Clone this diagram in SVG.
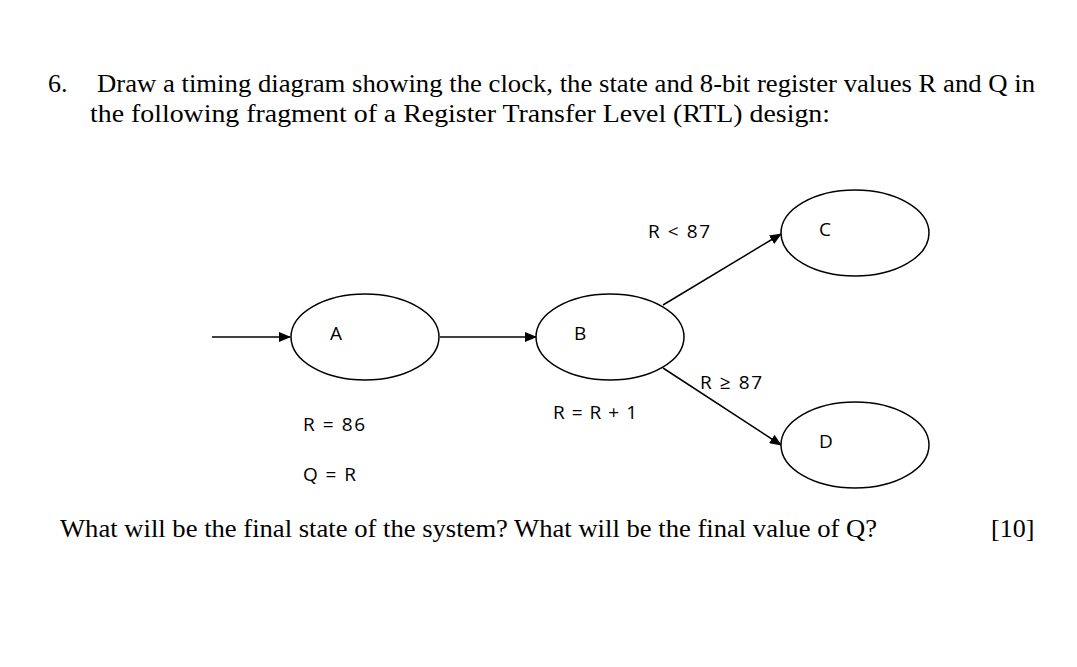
<svg xmlns="http://www.w3.org/2000/svg" width="1077" height="667" viewBox="0 0 1077 667">
<style>
.t{font-family:"Liberation Serif",serif;font-size:26px;fill:#000}
.s{font-family:"Open Sans","Liberation Sans",sans-serif;font-size:19px;fill:#000}
ellipse{fill:#fff;stroke:#000;stroke-width:1.5}
line{stroke:#000;stroke-width:1.5}
</style>
<defs><marker id="a" markerWidth="12" markerHeight="10" refX="11" refY="5" orient="auto" markerUnits="userSpaceOnUse"><path d="M0,0L12,5L0,10Z" fill="#000"/></marker></defs>
<rect width="1077" height="667" fill="#fff"/>
<text class="t" x="48" y="92">6.</text>
<text class="t" x="97" y="92" textLength="938" lengthAdjust="spacingAndGlyphs">Draw a timing diagram showing the clock, the state and 8-bit register values R and Q in</text>
<text class="t" x="90" y="122" textLength="740" lengthAdjust="spacingAndGlyphs">the following fragment of a Register Transfer Level (RTL) design:</text>
<g id="connectors">
<line x1="212" y1="337" x2="290" y2="337" marker-end="url(#a)"/>
<line x1="440" y1="337" x2="536" y2="337" marker-end="url(#a)"/>
<line x1="663" y1="305" x2="781" y2="234" marker-end="url(#a)"/>
<line x1="663" y1="368" x2="781" y2="445" marker-end="url(#a)"/>
</g>
<g id="A"><ellipse cx="365" cy="337" rx="74" ry="43"/><text class="s" x="330" y="340">A</text></g>
<g id="B"><ellipse cx="610" cy="337" rx="74" ry="43"/><text class="s" x="574" y="340">B</text></g>
<g id="C"><ellipse cx="855" cy="233" rx="74" ry="43"/><text class="s" x="819" y="236">C</text></g>
<g id="D"><ellipse cx="855" cy="445" rx="74" ry="43"/><text class="s" x="819" y="448">D</text></g>
<text class="s" x="648" y="238" textLength="62">R &lt; 87</text>
<text class="s" x="700" y="389" textLength="62">R ≥ 87</text>
<text class="s" x="553" y="419" textLength="84">R = R + 1</text>
<text class="s" x="303" y="431" textLength="62">R = 86</text>
<text class="s" x="303" y="481" textLength="53">Q = R</text>
<text class="t" x="60" y="537" textLength="817" lengthAdjust="spacingAndGlyphs">What will be the final state of the system? What will be the final value of Q?</text>
<text class="t" x="991" y="537">[10]</text>
</svg>
